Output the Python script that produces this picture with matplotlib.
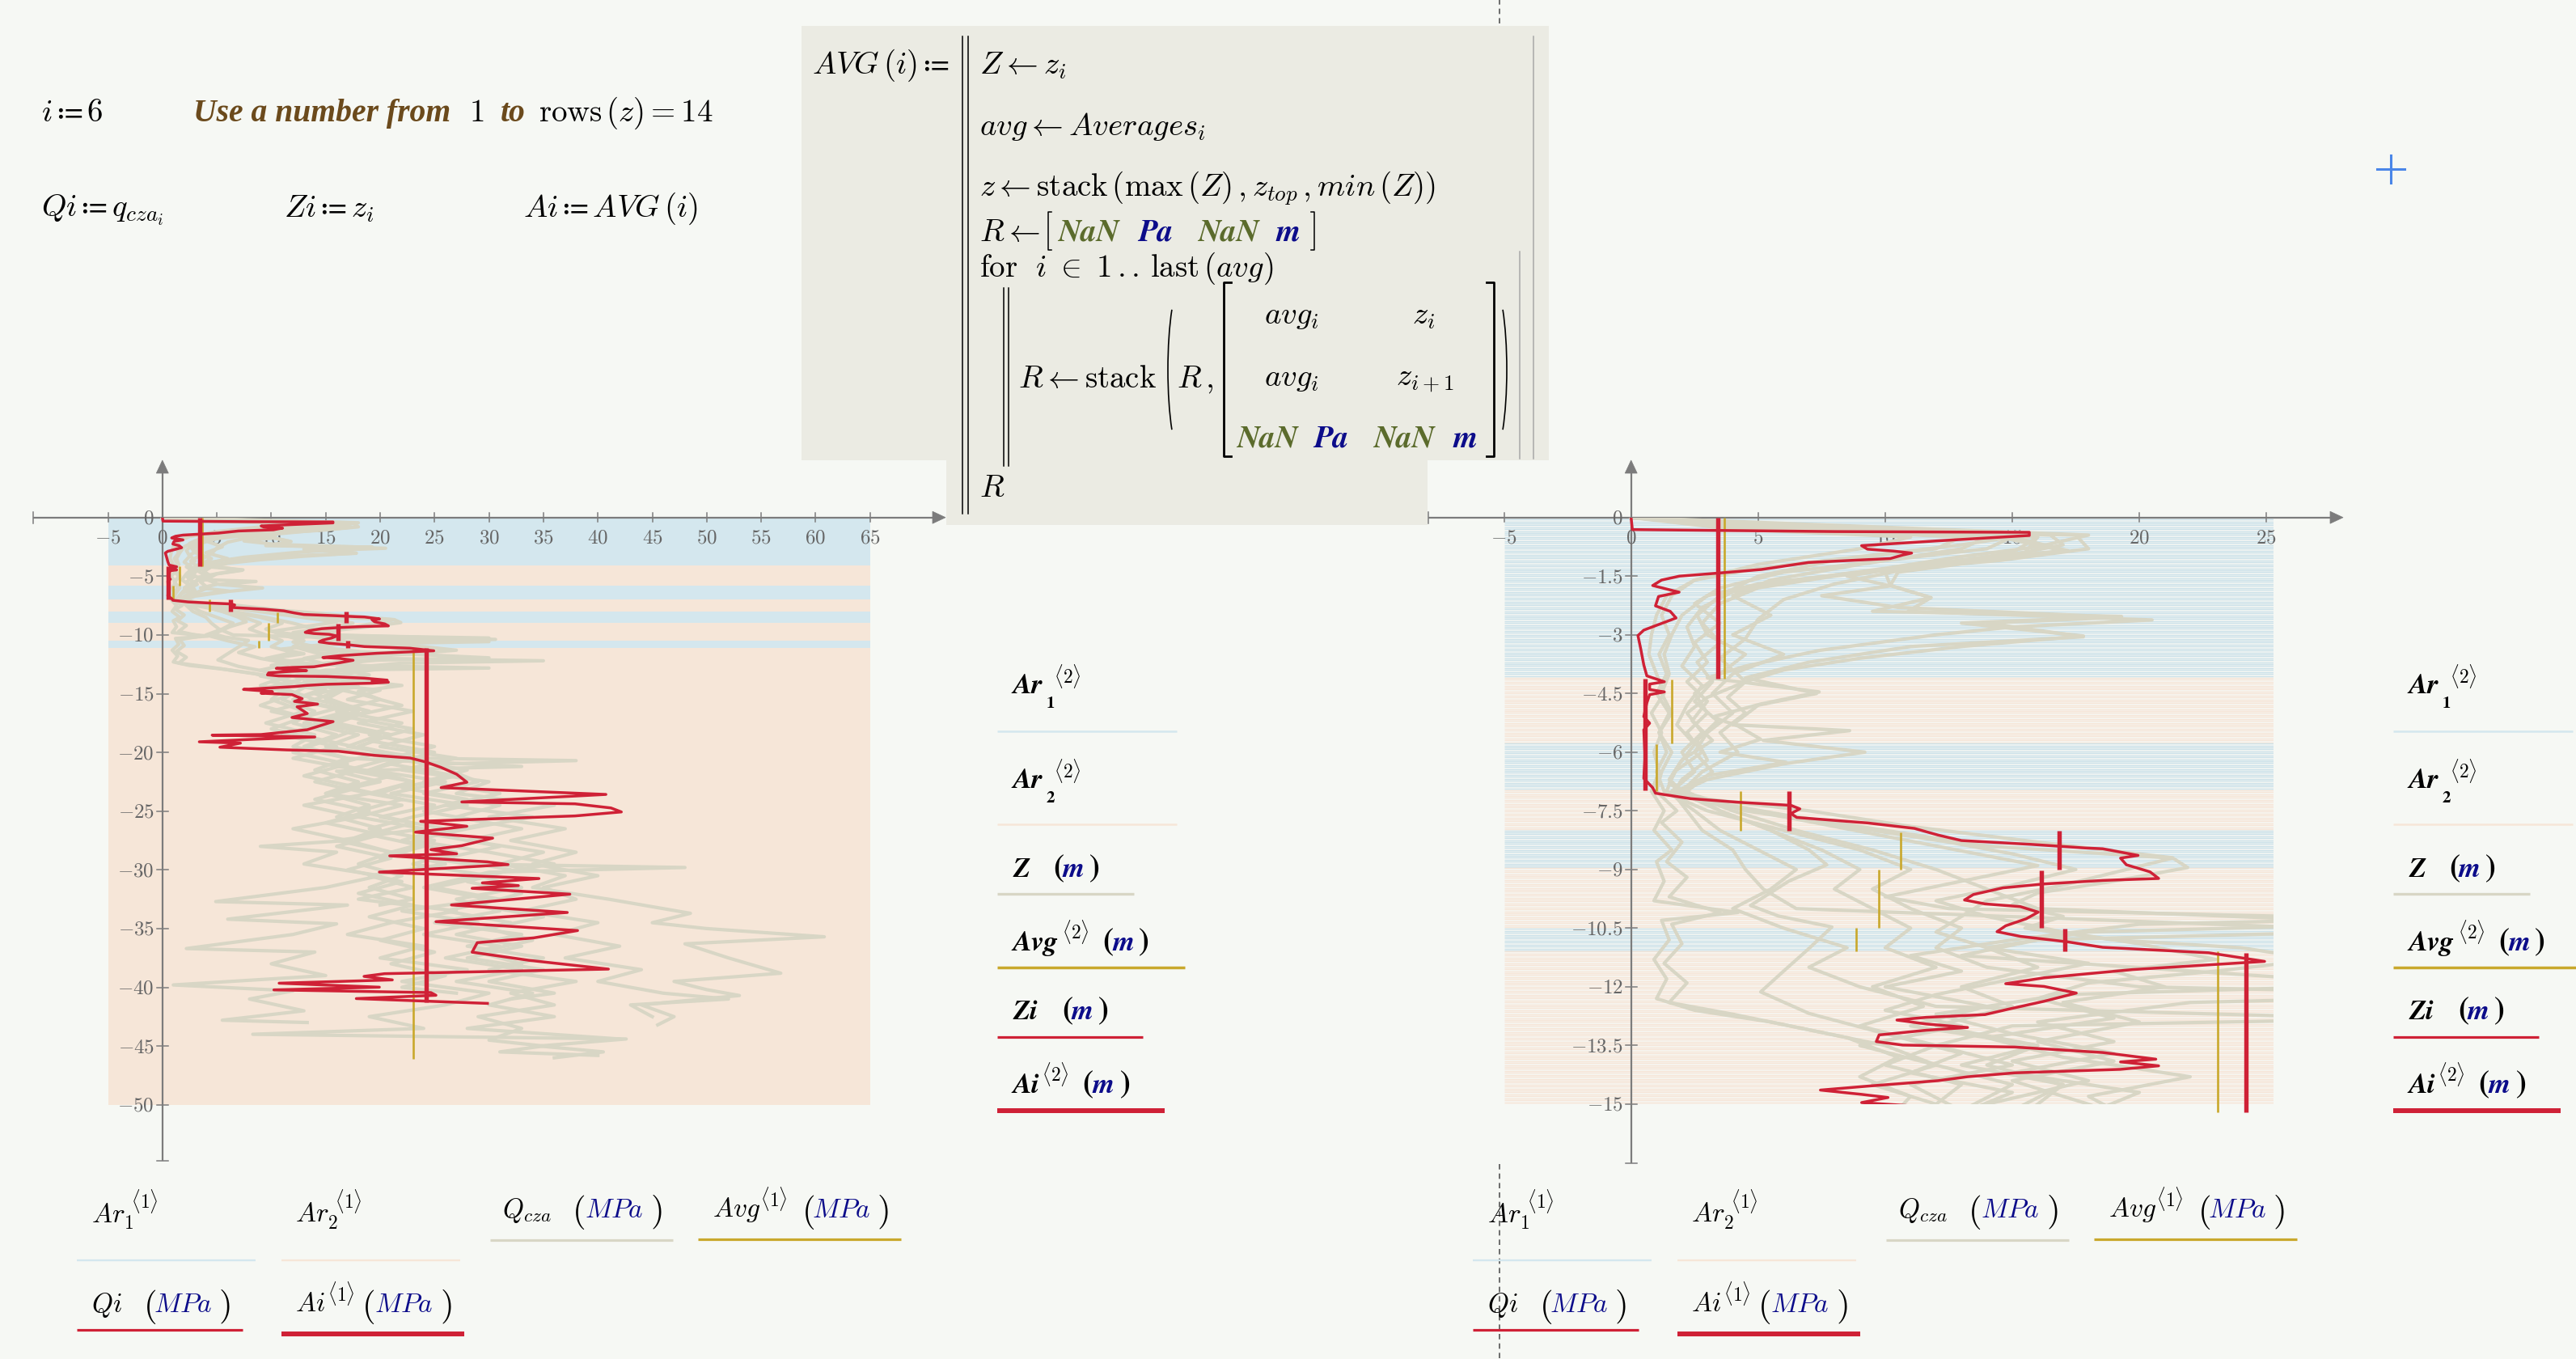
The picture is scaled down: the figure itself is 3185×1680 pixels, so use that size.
import numpy as np
import matplotlib
matplotlib.use('Agg')
import matplotlib.pyplot as plt
from matplotlib.patches import Rectangle, Polygon, Arc

plt.rcParams['mathtext.fontset'] = 'cm'

W, H = 3185, 1681

# ---------------- data read off the worksheet ----------------
# soil layers (Ar1 = blue layers, Ar2 = peach layers), depths in m
layer_top = [0, -4.1, -5.78, -6.97, -8.0, -8.97, -10.52, -11.1]
layer_bot = [-4.1, -5.78, -6.97, -8.0, -8.97, -10.52, -11.1, -50]
layer_kind = [1, 2, 1, 2, 1, 2, 1, 2]

# Avg: layer averages of all soundings (MPa)
avg_q = [3.67, 1.59, 1.01, 4.32, 10.6, 9.74, 8.86, 23.08]
avg_ztop = [0, -4.15, -5.8, -7.0, -8.05, -9.0, -10.5, -11.1]
avg_zbot = [-4.12, -5.78, -7.0, -8.0, -9.0, -10.5, -11.1, -46.1]

# Ai: layer averages of sounding i = 6 (MPa)
ai_q = [3.42, 0.55, 6.22, 16.85, 16.13, 17.06, 24.2]
ai_ztop = [0, -4.12, -7.0, -8.02, -9.02, -10.52, -11.13]
ai_zbot = [-4.12, -6.98, -8.0, -9.0, -10.5, -11.1, -41.3]

# Qi: cone resistance of sounding i = 6, (z [m], q [MPa])
qi_curve = [
    (0, 0), (-0.31, 0.05), (-0.36, 8), (-0.38, 15.67), (-0.46, 15.67), (-0.6, 12), (-0.72, 9.07),
    (-0.81, 9.3), (-0.86, 10.34), (-0.91, 11.04), (-0.96, 10.69), (-1.05, 10.2), (-1.15, 6.99),
    (-1.33, 5.13), (-1.43, 3.28), (-1.5, 1.9), (-1.6, 1.2), (-1.74, 0.85), (-1.91, 1.89),
    (-2.02, 1.08), (-2.26, 0.96), (-2.4, 1.54), (-2.57, 1.77), (-2.71, 1.2), (-2.88, 0.5),
    (-3.02, 0.27), (-3.36, 0.38), (-3.77, 0.5), (-4.05, 0.62), (-4.2, 1.31), (-4.26, 0.73),
    (-4.4, 0.73), (-4.46, 1.31), (-4.53, 0.73), (-4.74, 0.62), (-5.09, 0.5), (-5.26, 0.73),
    (-5.43, 0.5), (-6.12, 0.55), (-6.67, 0.5), (-6.91, 0.85), (-7.05, 0.96), (-7.19, 2.35),
    (-7.28, 4.2), (-7.36, 6.29), (-7.45, 6.64), (-7.57, 6.29), (-7.67, 6.52), (-7.81, 9.3),
    (-7.95, 11.15), (-8.12, 12.08), (-8.26, 13.0), (-8.36, 15.79), (-8.45, 17.87), (-8.47, 18.56),
    (-8.64, 19.95), (-8.71, 19.26), (-8.88, 19.49), (-9.06, 20.42), (-9.23, 20.76), (-9.28, 18.56),
    (-9.37, 16.25), (-9.47, 14.63), (-9.64, 13.47), (-9.78, 13.12), (-9.88, 13.93), (-9.95, 15.32),
    (-10.09, 16.02), (-10.26, 15.55), (-10.44, 14.74), (-10.59, 14.4), (-10.71, 15.32),
    (-10.85, 17.17), (-10.99, 18.56), (-11.13, 22.73), (-11.35, 24.93), (-11.42, 23.2),
    (-11.56, 19.72), (-11.77, 16.25), (-11.92, 14.74), (-11.99, 16.25), (-12.16, 17.52),
    (-12.37, 16.25), (-12.57, 14.86), (-12.71, 13.93), (-12.78, 11.61), (-12.85, 10.46),
    (-12.95, 11.61), (-13.04, 13.24), (-13.11, 11.61), (-13.23, 9.76), (-13.4, 9.65),
    (-13.49, 10.69), (-13.54, 15.09), (-13.68, 18.56), (-13.85, 20.65), (-13.92, 19.26),
    (-14.02, 20.76), (-14.11, 19.26), (-14.2, 15.09), (-14.3, 13.24), (-14.4, 12.08), (-14.54, 9.3),
    (-14.64, 7.45), (-14.75, 9.07), (-14.83, 10.11), (-14.96, 9.07), (-15.08, 11.9), (-15.43, 12.84),
    (-15.66, 12.13), (-15.89, 14.26), (-16.12, 12.37), (-16.69, 13.31), (-17.03, 11.9),
    (-17.38, 15.68), (-18.07, 13.31), (-18.48, 9.06), (-18.53, 4.57), (-18.6, 9.0), (-18.69, 14.0),
    (-18.9, 8.0), (-19.1, 3.39), (-19.21, 7.17), (-19.56, 5.28), (-19.79, 11.42), (-19.9, 16.15),
    (-20.25, 19.46), (-20.48, 22.77), (-20.82, 24.2), (-21.28, 25.6), (-21.86, 27.03),
    (-22.54, 27.97), (-23.0, 25.6), (-23.58, 40.74), (-24.22, 27.5), (-24.38, 37.9), (-24.73, 41.2),
    (-25.07, 42.16), (-25.41, 37.9), (-25.87, 23.72), (-26.29, 27.97), (-26.79, 23.25),
    (-27.3, 30.34), (-27.94, 27.5), (-28.28, 24.66), (-28.63, 27.03), (-28.81, 20.88),
    (-29.32, 29.86), (-29.55, 31.75), (-30.19, 19.93), (-30.74, 34.59), (-31.11, 29.39),
    (-31.34, 32.7), (-31.57, 28.45), (-32.07, 37.43), (-32.99, 26.55), (-33.63, 37.19),
    (-34.41, 25.13), (-35.17, 38.14), (-35.79, 34.12), (-36.2, 28.92), (-37.01, 28.45),
    (-37.7, 33.65), (-38.45, 40.97), (-38.84, 20.41), (-39.07, 18.52), (-39.37, 21.12),
    (-39.65, 10.72), (-39.99, 19.93), (-40.22, 10.24), (-40.45, 24.66), (-40.68, 25.13),
    (-40.96, 17.81), (-41.37, 29.86),
]

# all soundings q_cza (z [m], q [MPa]), read approximately
cpt1 = [(0, 0), (-0.25, 5), (-0.45, 15.5), (-0.7, 13), (-1.0, 9), (-1.3, 5), (-1.6, 2.5), (-2.0, 1.4),
        (-2.5, 1.0), (-3.0, 0.8), (-3.5, 0.7), (-4.0, 1.0), (-4.5, 1.3), (-5.0, 0.8), (-5.5, 1.2),
        (-6.0, 0.9), (-6.5, 1.1), (-7.0, 0.8), (-7.5, 1.3), (-8.0, 0.9), (-8.5, 1.6), (-8.8, 1.0),
        (-9.3, 1.3), (-9.8, 0.9), (-10.1, 4.2), (-10.3, 1.2), (-10.8, 1.5), (-11.3, 0.9), (-11.8, 1.4),
        (-12.3, 1.0), (-12.6, 2.5), (-12.9, 5.5), (-13.3, 8.5), (-13.8, 10.5), (-14.3, 9), (-14.8, 11),
        (-15.5, 10), (-16.5, 13), (-17.5, 9.5), (-18.5, 14), (-19.5, 12), (-20.5, 17), (-21.2, 33),
        (-21.6, 16), (-22.5, 20), (-23.5, 15), (-24.5, 22), (-25.5, 18), (-26.5, 24), (-27.5, 16),
        (-28.5, 21), (-29.5, 26), (-30.5, 19), (-31.5, 23), (-32.5, 18), (-33.5, 27), (-34.5, 21),
        (-35.5, 17), (-36.5, 24), (-37.5, 20), (-38.5, 28), (-39.5, 22), (-40.5, 30), (-41.5, 26),
        (-42.5, 19), (-43.5, 24), (-44.0, 8.3), (-44.4, 42.6), (-45.0, 34.6), (-45.5, 40.5),
        (-46.0, 36)]
cpt2 = [(0, 0), (-0.3, 8), (-0.45, 17.5), (-0.8, 18), (-1.1, 14.5), (-1.4, 9), (-1.7, 5), (-2.0, 3),
        (-2.5, 2), (-3.0, 1.6), (-3.5, 1.3), (-4.0, 1.5), (-4.5, 1.2), (-5.0, 1.6), (-5.5, 1.1),
        (-6.0, 1.4), (-6.5, 1.0), (-7.0, 1.3), (-7.2, 3), (-7.5, 7), (-7.9, 11), (-8.3, 16),
        (-8.7, 21.3), (-8.95, 21.9), (-9.3, 19), (-9.6, 16), (-9.9, 15), (-10.2, 17), (-10.5, 15.5),
        (-10.8, 19), (-11.0, 24), (-11.3, 27), (-11.6, 23), (-11.9, 18), (-12.3, 16), (-12.8, 19),
        (-13.3, 14), (-13.8, 17), (-14.3, 22), (-14.8, 18), (-15.5, 20), (-16.5, 16), (-17.5, 22),
        (-18.5, 19), (-19.5, 25), (-20.5, 21), (-21.5, 28), (-22.5, 24), (-23.5, 31), (-24.5, 26),
        (-25.5, 34), (-26.5, 28), (-27.5, 23), (-28.5, 30), (-29.5, 36), (-30.5, 29), (-31.5, 33),
        (-32.5, 27), (-33.5, 31), (-34.5, 25), (-35.5, 33), (-36.5, 28), (-37.5, 35), (-38.5, 30),
        (-39.5, 38), (-40.5, 32), (-41.5, 36), (-42.5, 29), (-43.5, 33), (-44.5, 30), (-45.0, 35),
        (-45.5, 31), (-45.8, 40)]
cpt3 = [(0, 0), (-0.3, 10), (-0.5, 16), (-0.9, 15.5), (-1.2, 11.5), (-1.5, 8.5), (-1.75, 10.2),
        (-2.0, 7.5), (-2.3, 10.5), (-2.55, 19.3), (-2.7, 14), (-3.05, 17.8), (-3.3, 11), (-3.7, 7),
        (-4.1, 4.5), (-4.5, 7.3), (-4.8, 5), (-5.3, 4.0), (-5.45, 8.6), (-5.7, 5.2), (-6.0, 9.2),
        (-6.3, 6.0), (-6.7, 3), (-7.0, 2), (-7.4, 4), (-7.9, 8), (-8.4, 12), (-8.9, 16), (-9.3, 13),
        (-9.7, 10), (-10.0, 12.5), (-10.26, 30), (-10.4, 20), (-10.8, 15), (-11.2, 11), (-11.6, 13),
        (-12.0, 10), (-12.5, 14), (-13.0, 11), (-13.5, 16), (-14.0, 13), (-14.5, 17), (-15.5, 14),
        (-16.5, 19), (-17.5, 15), (-18.5, 21), (-19.5, 18), (-20.5, 23), (-21.5, 19), (-22.5, 26),
        (-23.5, 21), (-24.5, 28), (-25.5, 23), (-26.5, 19), (-27.5, 25), (-28.5, 21), (-29.5, 28),
        (-29.8, 48), (-30.2, 30), (-31.5, 24), (-32.5, 30), (-33.5, 22), (-34.5, 29), (-35.5, 24),
        (-36.5, 31), (-37.5, 26), (-38.5, 33), (-39.5, 27), (-40.5, 34), (-41.5, 30), (-42.5, 36),
        (-43.5, 28), (-44.4, 42)]
cpt4 = [(0, 0), (-0.3, 7), (-0.5, 14.5), (-0.85, 17), (-1.1, 13), (-1.4, 10), (-1.74, 10.2),
        (-2.05, 11.8), (-2.4, 10.9), (-2.62, 20.5), (-2.8, 15), (-3.0, 12), (-3.4, 7.4), (-3.8, 4.5),
        (-4.1, 3), (-4.46, 7.4), (-4.77, 5.1), (-5.1, 3.2), (-5.33, 4.2), (-5.67, 5.1), (-6.0, 3.5),
        (-6.26, 6.1), (-6.6, 3), (-7.0, 1.8), (-7.5, 3.5), (-8.0, 5.5), (-8.5, 7.0), (-8.88, 7.7),
        (-9.3, 6.2), (-9.92, 4.7), (-10.19, 5.8), (-10.47, 7.9), (-11.02, 7.0), (-11.6, 6),
        (-12.13, 5.1), (-12.68, 7.0), (-13.2, 10), (-13.7, 13), (-14.2, 11), (-14.7, 15), (-15.5, 12),
        (-16.5, 18), (-17.5, 14), (-18.5, 20), (-19.5, 17), (-20.5, 24), (-20.7, 38), (-21.0, 25),
        (-22.5, 29), (-23.5, 24), (-24.5, 31), (-25.5, 27), (-26.5, 33), (-27.5, 28), (-28.5, 35),
        (-29.5, 31), (-30.5, 37), (-31.5, 34), (-32.5, 41), (-33.7, 48.5), (-34.5, 45), (-35.0, 50),
        (-35.7, 60.8), (-36.3, 48), (-37.5, 52), (-38.8, 56.8), (-39.5, 47), (-40.2, 50), (-40.7, 53),
        (-41.5, 44), (-42.5, 47), (-43.2, 45.5)]
cpt5 = [(0, 0), (-0.3, 6), (-0.5, 13), (-0.8, 12), (-1.1, 8), (-1.5, 5), (-2.0, 3.5), (-2.5, 2.6),
        (-3.0, 3), (-3.5, 4.5), (-4.0, 3.5), (-4.5, 2.5), (-5.0, 3), (-5.5, 2.2), (-6.0, 2.8),
        (-6.5, 1.7), (-7.0, 1.4), (-7.5, 2.5), (-8.0, 3.5), (-8.5, 5), (-9.0, 6.5), (-9.5, 5.5),
        (-10.0, 4), (-10.5, 6), (-11.0, 8.5), (-11.5, 7), (-12.0, 9), (-12.5, 12), (-12.82, 30),
        (-13.0, 15), (-13.5, 12), (-14.0, 15), (-14.5, 11), (-15.5, 14), (-16.5, 10), (-17.5, 15),
        (-18.5, 11), (-19.5, 16), (-20.5, 12), (-21.5, 18), (-22.5, 14), (-23.5, 19), (-24.5, 13),
        (-25.5, 18), (-26.5, 12), (-27.5, 17), (-28.0, 9), (-28.5, 16), (-29.5, 13), (-30.5, 20),
        (-31.5, 15), (-32.7, 4.9), (-33.0, 17), (-34.2, 6.0), (-34.6, 16), (-35.5, 12), (-36.7, 2.2),
        (-37.0, 14), (-38.0, 10), (-39.0, 15), (-39.8, 1.0), (-40.3, 12), (-41.0, 8), (-42.0, 13),
        (-42.8, 5.5), (-43.0, 13.3)]
cpt6 = [(0, 0), (-0.3, 9), (-0.45, 16.5), (-0.7, 17), (-0.95, 15), (-1.3, 11), (-1.7, 8), (-2.1, 6),
        (-2.6, 5), (-3.1, 4.5), (-3.6, 3.5), (-4.2, 4.5), (-4.6, 3), (-5.0, 2.2), (-5.5, 2.8),
        (-6.0, 2), (-6.5, 2.5), (-7.0, 1.6), (-7.5, 2.2), (-8.0, 2.8), (-8.5, 4.0), (-9.0, 4.5),
        (-9.5, 5.2), (-10.0, 6.5), (-10.57, 30), (-10.8, 16), (-11.2, 13), (-11.95, 30), (-12.2, 17),
        (-12.7, 12), (-13.2, 15), (-13.7, 19), (-14.2, 15), (-14.7, 20), (-15.5, 17), (-16.5, 23),
        (-17.5, 18), (-18.5, 24), (-19.5, 20), (-20.5, 27), (-21.5, 22), (-22.5, 30), (-23.5, 27),
        (-24.5, 36), (-25.5, 30), (-26.5, 37), (-27.5, 32), (-28.5, 38), (-29.5, 34), (-30.5, 40),
        (-31.5, 35), (-32.5, 38), (-33.5, 33), (-34.5, 40), (-35.5, 36), (-36.5, 42), (-37.5, 37),
        (-38.5, 44), (-39.5, 40), (-40.5, 46), (-41.0, 52), (-41.5, 43), (-42.5, 45)]
cpt7 = [(0, 0), (-0.3, 12), (-0.45, 18), (-0.75, 16), (-1.0, 13), (-1.3, 10), (-1.6, 6.5), (-1.9, 4),
        (-2.3, 2.8), (-2.8, 2.2), (-3.3, 2.5), (-3.8, 2), (-4.3, 2.8), (-4.8, 2.2), (-5.3, 1.8),
        (-5.8, 2.5), (-6.3, 1.9), (-6.8, 1.5), (-7.2, 2.5), (-7.6, 6), (-8.0, 10), (-8.4, 14),
        (-8.71, 21.3), (-9.0, 19.5), (-9.4, 17), (-9.8, 14), (-10.2, 13), (-10.6, 12), (-11.0, 14),
        (-11.4, 18), (-11.8, 15), (-12.2, 12), (-12.6, 10), (-13.0, 13), (-13.5, 9), (-14.0, 12),
        (-14.5, 15), (-15.5, 12), (-16.5, 17), (-17.5, 13), (-18.5, 18), (-19.5, 15), (-20.5, 21),
        (-21.5, 17), (-22.5, 23), (-23.5, 19), (-24.5, 25), (-25.5, 20), (-26.5, 26), (-27.5, 22),
        (-28.5, 27), (-29.5, 23), (-30.5, 30), (-31.5, 25), (-32.5, 31), (-33.5, 26), (-34.5, 32),
        (-35.5, 27), (-36.5, 33), (-37.5, 28), (-38.5, 35), (-39.5, 30), (-40.5, 36), (-41.0, 32)]
cpt8 = [(0, 0), (-0.3, 4), (-0.5, 11), (-0.8, 9), (-1.2, 5), (-1.6, 2.5), (-2.0, 1.6), (-2.5, 1.2),
        (-3.0, 1.5), (-3.5, 1.1), (-4.0, 1.4), (-4.5, 1.0), (-5.0, 1.5), (-5.5, 1.1), (-6.0, 1.6),
        (-6.5, 1.2), (-7.0, 1.0), (-7.5, 1.8), (-7.8, 1.2), (-8.3, 2.0), (-8.8, 1.4), (-9.2, 2.2),
        (-9.7, 1.5), (-10.1, 3.5), (-10.4, 1.6), (-10.9, 2.0), (-11.4, 1.3), (-11.9, 2.2), (-12.4, 1.5),
        (-12.7, 4), (-13.1, 7), (-13.5, 10), (-14.0, 12), (-14.5, 9.5), (-15.0, 12), (-16.0, 9),
        (-17.0, 13), (-18.0, 10), (-19.0, 15), (-20.0, 12), (-21.0, 17), (-22.0, 13), (-23.0, 18),
        (-24.0, 14), (-25.0, 19), (-26.0, 15), (-27.0, 20), (-28.0, 16), (-29.0, 21), (-30.0, 17),
        (-31.0, 22), (-32.0, 18), (-33.0, 23), (-34.0, 19), (-35.0, 24), (-36.0, 20), (-37.0, 25),
        (-38.0, 21), (-39.0, 26), (-40.0, 22), (-40.5, 27)]
cpt9 = [(0, 0), (-0.3, 6), (-0.5, 15), (-0.8, 14), (-1.1, 10), (-1.4, 6), (-1.8, 3.5), (-2.2, 2.5),
        (-2.7, 3.5), (-3.2, 2.5), (-3.7, 3), (-4.2, 2.2), (-4.7, 3.0), (-5.2, 2.4), (-5.7, 3.2),
        (-6.2, 2.0), (-6.7, 1.5), (-7.1, 2.2), (-7.5, 4.5), (-7.9, 8.5), (-8.3, 12.5), (-8.6, 15),
        (-9.0, 17.5), (-9.4, 15), (-9.8, 12), (-10.2, 14), (-10.6, 17), (-10.9, 20), (-11.3, 23),
        (-11.6, 19), (-12.0, 21), (-12.4, 17), (-12.9, 20), (-13.4, 16), (-13.9, 19), (-14.4, 15),
        (-15.0, 18), (-16.0, 22), (-17.0, 17), (-18.0, 23), (-19.0, 19), (-20.0, 25), (-21.0, 21),
        (-22.0, 27), (-23.0, 22), (-24.0, 28), (-25.0, 24), (-26.0, 30), (-27.0, 25), (-28.0, 31),
        (-29.0, 26), (-30.0, 32), (-31.0, 28), (-32.0, 33), (-33.0, 29), (-34.0, 35), (-35.0, 30),
        (-36.0, 34), (-37.0, 29), (-38.0, 33)]
cpt10 = [(0, 0), (-0.3, 5), (-0.5, 14), (-0.8, 13), (-1.2, 9), (-1.6, 5.5), (-2.0, 4), (-2.5, 5.5),
         (-3.0, 4), (-3.5, 6), (-4.0, 4), (-4.5, 3.2), (-5.0, 4), (-5.5, 3), (-6.0, 2.5), (-6.5, 3.2),
         (-7.0, 2.2), (-7.5, 3.5), (-8.0, 5.5), (-8.5, 7.5), (-9.0, 9), (-9.5, 8), (-10.0, 9.5),
         (-10.5, 11), (-11.0, 10), (-11.5, 12), (-12.0, 9.5), (-12.5, 11.5), (-13.0, 9), (-13.5, 12),
         (-14.0, 10), (-14.5, 13), (-15.5, 11), (-16.5, 14), (-17.5, 12), (-18.5, 16), (-19.5, 13),
         (-20.5, 17), (-21.5, 14), (-22.5, 18), (-23.5, 15), (-24.5, 19), (-25.5, 16), (-26.5, 20),
         (-27.5, 17), (-28.5, 21), (-29.5, 18), (-30.5, 22), (-31.5, 19), (-32.5, 23), (-33.0, 20)]
cpt11 = [(0, 0), (-0.3, 7), (-0.5, 16), (-0.9, 15), (-1.2, 12), (-1.5, 8), (-1.8, 5), (-2.2, 3.5),
         (-2.7, 2.8), (-3.2, 3.5), (-3.7, 2.6), (-4.2, 3.2), (-4.7, 2.5), (-5.2, 3.4), (-5.7, 2.6),
         (-6.2, 3.0), (-6.7, 2.0), (-7.1, 1.6), (-7.5, 3), (-8.0, 6), (-8.5, 9), (-9.0, 11),
         (-9.5, 9.5), (-10.0, 11), (-10.5, 13), (-11.0, 12), (-11.5, 14), (-12.0, 20), (-12.2, 35),
         (-12.4, 22), (-12.9, 16), (-13.4, 19), (-13.9, 15), (-14.4, 18), (-15.0, 14), (-16.0, 17),
         (-17.0, 13), (-18.0, 18), (-19.0, 15), (-20.0, 20), (-21.0, 16), (-22.0, 21), (-23.0, 17),
         (-24.0, 22), (-25.0, 18), (-26.0, 23), (-27.0, 19), (-28.0, 24), (-29.0, 20)]
cpt12 = [(0, 0), (-0.3, 8), (-0.5, 15), (-0.85, 17.2), (-1.1, 14), (-1.4, 10.5), (-1.74, 10.2),
         (-2.05, 11.8), (-2.4, 9.5), (-2.53, 19.3), (-2.7, 13), (-3.03, 17.8), (-3.3, 13), (-3.6, 9),
         (-3.9, 6), (-4.2, 4.5), (-4.6, 3.8), (-5.0, 4.5), (-5.5, 3.5), (-6.0, 4.2), (-6.5, 2.8),
         (-7.0, 2.0), (-7.5, 4.0), (-8.0, 6.5), (-8.5, 9.5), (-9.0, 12), (-9.5, 14), (-10.0, 16),
         (-10.38, 30.6), (-10.6, 18), (-11.0, 14), (-11.5, 16), (-12.0, 13), (-12.5, 15), (-13.0, 12),
         (-13.5, 16), (-14.0, 14), (-14.5, 17), (-15.5, 15), (-16.5, 19), (-17.5, 16), (-18.5, 21),
         (-19.5, 18), (-20.5, 22), (-21.5, 19), (-22.5, 23), (-23.5, 20), (-24.0, 22)]
soundings = [cpt1, cpt2, cpt3, cpt4, cpt5, cpt6, cpt7, cpt8, cpt9, cpt10, cpt11, cpt12]

left_xticks = [-5, 0, 5, 10, 15, 20, 25, 30, 35, 40, 45, 50, 55, 60, 65]
left_yticks = [0, -5, -10, -15, -20, -25, -30, -35, -40, -45, -50]
right_xticks = [-5, 0, 5, 10, 15, 20, 25]
right_yticks = [0, -1.5, -3, -4.5, -6, -7.5, -9, -10.5, -12, -13.5, -15]

# ---------------- colours ----------------
BG = '#f6f8f4'
BOX = '#ebebe3'
AXC = '#7c7c7c'
TICKC = '#666666'
BLUE_L = '#d4e7ee'
BLUE_S = '#cde2ea'
PEACH = '#f6e6d8'
GRAY = '#d8d6c5'
GOLD = '#c9a82c'
RED = '#cf2136'
NAVY = '#0c0c8a'
OLIVE = '#5b6b2c'
BROWN = '#6b4a1c'

fig = plt.figure(figsize=(W / 100, H / 100), dpi=100, facecolor=BG)

# pixel mapping of the two plot regions
Lm = dict(x0=200.8, sx=13.46, y0=640.7, sy=14.52, xlim=(-5, 65), ylim=(-50, 0))
Rm = dict(x0=2016.7, sx=31.42, y0=640.7, sy=48.35, xlim=(-5, 25.28), ylim=(-15, 0))


def data_axes(m, z):
    l = m['x0'] + m['xlim'][0] * m['sx']
    r = m['x0'] + m['xlim'][1] * m['sx']
    t = m['y0'] - m['ylim'][1] * m['sy']
    b = m['y0'] - m['ylim'][0] * m['sy']
    ax = fig.add_axes([l / W, 1 - b / H, (r - l) / W, (b - t) / H], zorder=z)
    ax.set_xlim(*m['xlim'])
    ax.set_ylim(*m['ylim'])
    ax.axis('off')
    return ax


bgL = data_axes(Lm, 1)
bgR = data_axes(Rm, 1)
P = fig.add_axes([0, 0, 1, 1], zorder=2)
P.set_xlim(0, W)
P.set_ylim(H, 0)
P.axis('off')
fgL = data_axes(Lm, 3)
fgR = data_axes(Rm, 3)
P2 = fig.add_axes([0, 0, 1, 1], zorder=4)
P2.set_xlim(0, W)
P2.set_ylim(H, 0)
P2.axis('off')

# ---------------- layer bands ----------------
for top, bot, kind in zip(layer_top, layer_bot, layer_kind):
    bgL.axhspan(bot, top, color=BLUE_L if kind == 1 else PEACH, lw=0)
    zs = np.arange(top, bot, -0.05)
    bgR.hlines(zs, -5, 65, colors=BLUE_S if kind == 1 else PEACH, lw=1.05)

# ---------------- traces ----------------
for ax, right in ((fgL, False), (fgR, True)):
    for s in soundings:
        a = np.array(s)
        ax.plot(a[:, 1], a[:, 0], color=GRAY, lw=3.0, solid_joinstyle='round', zorder=1)
    zb = np.maximum(avg_zbot, -15.2) if right else avg_zbot
    ax.vlines(avg_q, zb, avg_ztop, colors=GOLD, lw=1.9, zorder=2, clip_on=False)
    q = np.array(qi_curve)
    ax.plot(q[:, 1], q[:, 0], color=RED, lw=2.5, solid_joinstyle='round', zorder=3)
    zb = np.maximum(ai_zbot, -15.2) if right else ai_zbot
    ax.vlines(ai_q, zb, ai_ztop, colors=RED, lw=3.9, zorder=4, clip_on=False)


# ---------------- axes (Mathcad style) ----------------
def arrow_head(x, y, direction):
    L, h = 16, 7.5
    if direction == 'right':
        pts = [(x, y), (x - L, y - h), (x - L, y + h)]
    else:
        pts = [(x, y), (x - h, y + L), (x + h, y + L)]
    P.add_patch(Polygon(pts, closed=True, fc=AXC, ec=AXC, lw=0.5))


def fmt(v):
    return r'$%s$' % ('%g' % v)


def draw_axes(m, x_from, x_tip, y_bot, y_tip, xticks, yticks):
    x0, sx, y0, sy = m['x0'], m['sx'], m['y0'], m['sy']
    P.plot([x_from, x_tip - 10], [y0, y0], color=AXC, lw=1.6, solid_capstyle='butt')
    arrow_head(x_tip, y0, 'right')
    P.plot([x0, x0], [y_bot, y_tip + 10], color=AXC, lw=1.6, solid_capstyle='butt')
    arrow_head(x0, y_tip, 'up')
    # end ticks where the axis lines start
    P.plot([x_from, x_from], [y0 - 7, y0 + 7], color=AXC, lw=1.1)
    P.plot([x0 - 7, x0 + 7], [y_bot, y_bot], color=AXC, lw=1.1)
    for v in xticks:
        px = x0 + v * sx
        P.plot([px, px], [y0 - 6, y0 + 5], color=AXC, lw=1.1)
        P.text(px, y0 + 12, fmt(v), fontsize=18, color=TICKC, ha='center', va='top')
    for v in yticks:
        py = y0 - v * sy
        P.plot([x0 - 7, x0 + 7], [py, py], color=AXC, lw=1.1)
        P.text(x0 - 10, py, fmt(v), fontsize=18, color=TICKC, ha='right', va='center')


draw_axes(Lm, 41, 1169, 1436, 570, left_xticks, left_yticks)
draw_axes(Rm, 1766, 2897, 1439, 570, right_xticks, right_yticks)

# page break line
for y_a, y_b in ((0, 32), (1440, H)):
    P.plot([1854, 1854], [y_a, y_b], color='#555555', lw=1.2, ls=(0, (4, 3)))

# blue cross cursor
P.plot([2939, 2973], [210, 210], color='#4a86e8', lw=2.2)
P.plot([2956, 2956], [193, 227], color='#4a86e8', lw=2.2)

# ---------------- worksheet text ----------------
MS = 28
DEF = '\\,\u2254\\,'
P.text(51, 150, r'$i' + DEF + r'6$', fontsize=MS, va='baseline')
P.text(239, 150, 'Use a number from', fontsize=28.5, family='Liberation Serif', style='italic',
       weight='bold', color=BROWN, va='baseline')
P.text(580, 150, r'$1$', fontsize=MS, va='baseline')
P.text(619, 150, 'to', fontsize=28.5, family='Liberation Serif', style='italic', weight='bold',
       color=BROWN, va='baseline')
P.text(666, 150, r'$\mathrm{rows}\,(z)=14$', fontsize=MS, va='baseline')
P.text(51, 268, r'$Qi' + DEF + r'q_{cza_{i}}$', fontsize=MS, va='baseline')
P.text(351, 268, r'$Zi' + DEF + r'z_{i}$', fontsize=MS, va='baseline')
P.text(647, 268, r'$Ai' + DEF + r'AVG\,(i)$', fontsize=MS, va='baseline')

# ---------------- program box ----------------
P2.add_patch(Rectangle((991, 33), 924, 537, fc=BOX, ec='none'))
P2.add_patch(Rectangle((1170, 568), 595, 82, fc=BOX, ec='none'))
for x in (1190, 1197):
    P2.plot([x, x], [46, 636], color='black', lw=1.1)
for x in (1241, 1247):
    P2.plot([x, x], [357, 577], color='black', lw=1.1)
P2.plot([1896, 1896], [46, 568], color='#a8a8a8', lw=1.1)
P2.plot([1879, 1879], [312, 568], color='#a8a8a8', lw=1.1)

BIt = dict(family='STIXGeneral', style='italic', weight='bold')
P2.text(1004, 91, r'$AVG\,(i)' + DEF + r'$', fontsize=MS, va='baseline')
P2.text(1211, 91, r'$Z\leftarrow z_{i}$', fontsize=MS, va='baseline')
P2.text(1211, 167, r'$avg\leftarrow Averages_{i}$', fontsize=MS, va='baseline')
P2.text(1211, 242, r'$z\leftarrow \mathrm{stack}\,(\mathrm{max}\,(Z)\,,z_{top}\,,min\,(Z))$',
        fontsize=MS, va='baseline')
P2.text(1211, 298, r'$R\leftarrow$', fontsize=MS, va='baseline')
P2.plot([1300, 1296, 1296, 1300], [263, 263, 310, 310], color='black', lw=1.1)
P2.plot([1621, 1625, 1625, 1621], [263, 263, 310, 310], color='black', lw=1.1)
P2.text(1308, 298, 'NaN', fontsize=MS, color=OLIVE, va='baseline', **BIt)
P2.text(1407, 298, 'Pa', fontsize=MS, color=NAVY, va='baseline', **BIt)
P2.text(1481, 298, 'NaN', fontsize=MS, color=OLIVE, va='baseline', **BIt)
P2.text(1578, 298, 'm', fontsize=MS, color=NAVY, va='baseline', **BIt)
P2.text(1211, 342, r'$\mathrm{for}\ \ i\ \in\ 1\,..\,\mathrm{last}\,(avg)$', fontsize=MS, va='baseline')
P2.text(1259, 479, r'$R\leftarrow \mathrm{stack}$', fontsize=MS, va='baseline')
P2.add_patch(Arc((1462, 458), 36, 216, theta1=100, theta2=260, color='black', lw=1.2))
P2.text(1455, 479, r'$R\,,$', fontsize=MS, va='baseline')
P2.plot([1522, 1513, 1513, 1522], [350, 350, 565, 565], color='black', lw=2.0)
P2.plot([1838, 1847, 1847, 1838], [350, 350, 565, 565], color='black', lw=2.0)
P2.add_patch(Arc((1845, 458), 36, 216, theta1=-80, theta2=80, color='black', lw=1.2))
P2.text(1597, 400, r'$avg_{i}$', fontsize=MS, va='baseline', ha='center')
P2.text(1597, 477, r'$avg_{i}$', fontsize=MS, va='baseline', ha='center')
P2.text(1760, 400, r'$z_{i}$', fontsize=MS, va='baseline', ha='center')
P2.text(1762, 477, r'$z_{i+1}$', fontsize=MS, va='baseline', ha='center')
P2.text(1529, 553, 'NaN', fontsize=MS, color=OLIVE, va='baseline', **BIt)
P2.text(1624, 553, 'Pa', fontsize=MS, color=NAVY, va='baseline', **BIt)
P2.text(1698, 553, 'NaN', fontsize=MS, color=OLIVE, va='baseline', **BIt)
P2.text(1797, 553, 'm', fontsize=MS, color=NAVY, va='baseline', **BIt)
P2.text(1211, 614, r'$R$', fontsize=MS, va='baseline')

# ---------------- legends beside the plots (vertical axis, bold) ----------------
BSZ = 25
BUp = dict(family='STIXGeneral', weight='bold')


def unit_m(x, y, po, pm, pc):
    P.text(x + po, y, '(', fontsize=28, va='baseline', **BUp)
    P.text(x + pm, y, 'm', fontsize=BSZ, color=NAVY, va='baseline', **BIt)
    P.text(x + pc, y, ')', fontsize=28, va='baseline', **BUp)


def side_legend(dx):
    x = 1252 + dx
    lx = 1233 + dx
    # Ar1
    P.text(x, 857, 'Ar', fontsize=BSZ, va='baseline', **BIt)
    P.text(x + 42, 875, '1', fontsize=15, va='baseline', **BUp)
    P.text(x + 51, 845, r'$\langle2\rangle$', fontsize=17, va='baseline')
    P.plot([lx, lx + 222], [904.5, 904.5], color=BLUE_L, lw=1.8, solid_capstyle='butt')
    # Ar2
    P.text(x, 974, 'Ar', fontsize=BSZ, va='baseline', **BIt)
    P.text(x + 42, 992, '2', fontsize=15, va='baseline', **BUp)
    P.text(x + 51, 962, r'$\langle2\rangle$', fontsize=17, va='baseline')
    P.plot([lx, lx + 222], [1020, 1020], color=PEACH, lw=1.8, solid_capstyle='butt')
    # Z
    P.text(x, 1084, 'Z', fontsize=BSZ, va='baseline', **BIt)
    unit_m(x, 1084, 50, 61, 95)
    P.plot([lx, lx + 169], [1106, 1106], color=GRAY, lw=2.4, solid_capstyle='butt')
    # Avg
    P.text(x, 1175, 'Avg', fontsize=BSZ, va='baseline', **BIt)
    P.text(x + 61, 1161, r'$\langle2\rangle$', fontsize=17, va='baseline')
    unit_m(x, 1175, 111, 123, 156)
    P.plot([lx, lx + 232], [1197, 1197], color=GOLD, lw=2.5, solid_capstyle='butt')
    # Zi
    P.text(x, 1260, 'Zi', fontsize=BSZ, va='baseline', **BIt)
    unit_m(x, 1260, 61, 72, 106)
    P.plot([lx, lx + 180], [1283, 1283], color=RED, lw=2.3, solid_capstyle='butt')
    # Ai
    P.text(x, 1351, 'Ai', fontsize=BSZ, va='baseline', **BIt)
    P.text(x + 36, 1337, r'$\langle2\rangle$', fontsize=17, va='baseline')
    unit_m(x, 1351, 86, 98, 133)
    P.plot([lx, lx + 207], [1374, 1374], color=RED, lw=4.3, solid_capstyle='butt')


side_legend(0)
side_legend(1726)

# ---------------- legends under the plots (horizontal axis) ----------------
LSZ = 24


def unit_mpa(x, y, po, pm, pc):
    P.text(x + po, y + 4, r'$($', fontsize=31, va='baseline')
    P.text(x + pm, y, r'$MPa$', fontsize=LSZ, color=NAVY, va='baseline')
    P.text(x + pc, y + 4, r'$)$', fontsize=31, va='baseline')


def bottom_legend(dx):
    P.text(112.6 + dx, 1511.7, r'$Ar_{1}^{\ \langle1\rangle}$', fontsize=LSZ, va='baseline')
    P.plot([95 + dx, 316 + dx], [1559, 1559], color=BLUE_L, lw=1.7, solid_capstyle='butt')
    P.text(365 + dx, 1511.7, r'$Ar_{2}^{\ \langle1\rangle}$', fontsize=LSZ, va='baseline')
    P.plot([347.6 + dx, 568.6 + dx], [1559, 1559], color=PEACH, lw=1.7, solid_capstyle='butt')
    P.text(621 + dx, 1505, r'$Q_{cza}$', fontsize=LSZ, va='baseline')
    unit_mpa(dx, 1505, 707, 723, 804)
    P.plot([606 + dx, 832 + dx], [1534, 1534], color=GRAY, lw=2.3, solid_capstyle='butt')
    P.text(881 + dx, 1505, r'$Avg^{\langle1\rangle}$', fontsize=LSZ, va='baseline')
    unit_mpa(dx, 1505, 991, 1004, 1084)
    P.plot([863 + dx, 1114 + dx], [1533, 1533], color=GOLD, lw=2.3, solid_capstyle='butt')
    P.text(112.6 + dx, 1621.7, r'$Qi$', fontsize=LSZ, va='baseline')
    unit_mpa(dx, 1621.7, 177, 190, 270)
    P.plot([95 + dx, 300 + dx], [1645, 1645], color=RED, lw=2.3, solid_capstyle='butt')
    P.text(365 + dx, 1621.7, r'$Ai^{\langle1\rangle}$', fontsize=LSZ, va='baseline')
    unit_mpa(dx, 1621.7, 447, 463, 544)
    P.plot([347.6 + dx, 573.5 + dx], [1650, 1650], color=RED, lw=4.3, solid_capstyle='butt')


bottom_legend(0)
bottom_legend(1726)

fig.savefig('out.png', dpi=100, facecolor=BG)
